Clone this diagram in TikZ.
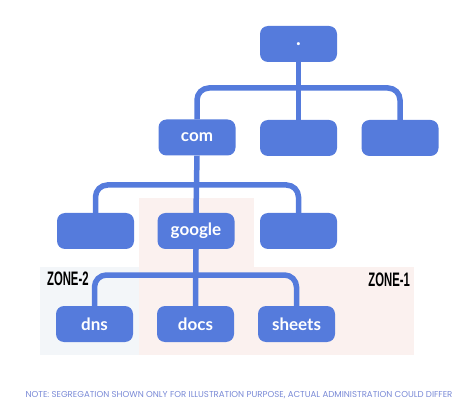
\documentclass[tikz,border=0pt]{standalone}
\usepackage{fontspec}
\setmainfont{Lato}
\newfontfamily\notefont{Poppins}
\newfontfamily\zonefont{Liberation Sans}
\usepackage{tikz}
\usetikzlibrary{calc}
\usetikzlibrary{positioning}
\definecolor{boxblue}{HTML}{557BDC}
\definecolor{zonegray}{HTML}{F3F6F9}
\definecolor{zonepink}{HTML}{FBF1EF}
\definecolor{noteblue}{HTML}{7A8AD6}
\tikzset{dnsbox/.style = {rectangle, rounded corners=8pt, fill=boxblue, minimum width=77pt, minimum height=36pt, inner sep=0pt, text=white, font=\bfseries\fontsize{17}{19}\selectfont}}
\tikzset{link/.style = {-, draw=boxblue, line width=5.5pt, rounded corners=12pt}}
\tikzset{zonelabel/.style = {font=\zonefont\bfseries\fontsize{19.5}{21}\selectfont, xscale=0.58, inner sep=0pt}}

\begin{document}
\begin{tikzpicture}[x=1pt, y=-1pt]
\useasboundingbox (0, 0) rectangle (474, 406);
% zones
\fill [zonegray] (40, 267) rectangle (139, 355);
\fill [zonepink] (139, 267) rectangle (414, 355);
\fill [zonepink] (139, 198) rectangle (254, 267);
\node [zonelabel, anchor=west] (Z2) at (47, 279) {ZONE-2};
\node [zonelabel, anchor=east] (Z1) at (410, 280) {ZONE-1};
% boxes
\node [dnsbox] (root) at (298.5, 44) {\fontsize{20}{20}\selectfont .};
\node [dnsbox] (com) at (197, 137.5) {com};
\node [dnsbox] (tld2) at (298.5, 138) {};
\node [dnsbox] (tld3) at (400, 138) {};
\node [dnsbox] (sld1) at (95.5, 231) {};
\node [dnsbox] (google) at (196, 231) {google};
\node [dnsbox] (sld3) at (298.5, 231) {};
\node [dnsbox] (dns) at (94.5, 324) {dns};
\node [dnsbox] (docs) at (195.5, 324) {docs};
\node [dnsbox] (sheets) at (296.5, 324) {sheets};
% links
\draw [link] (com.north) |- (root.south |- 0, 88) -| (tld3.north);
\draw [link, rounded corners=0pt] (root.south) -- (tld2.north);
\draw [link] (sld1.north) |- (com.south |- 0, 185) -| (sld3.north);
\draw [link, rounded corners=0pt] (com.south) -- (google.north);
\draw [link] (dns.north) |- (google.south |- 0, 275) -| (sheets.north);
\draw [link, rounded corners=0pt] (google.south) -- (docs.north);
% note
\node [font=\notefont\fontsize{8.6}{10}\selectfont, text=noteblue] (note) at (239, 395) {NOTE: SEGREGATION SHOWN ONLY FOR ILLUSTRATION PURPOSE, ACTUAL ADMINISTRATION COULD DIFFER};
\end{tikzpicture}
\end{document}
